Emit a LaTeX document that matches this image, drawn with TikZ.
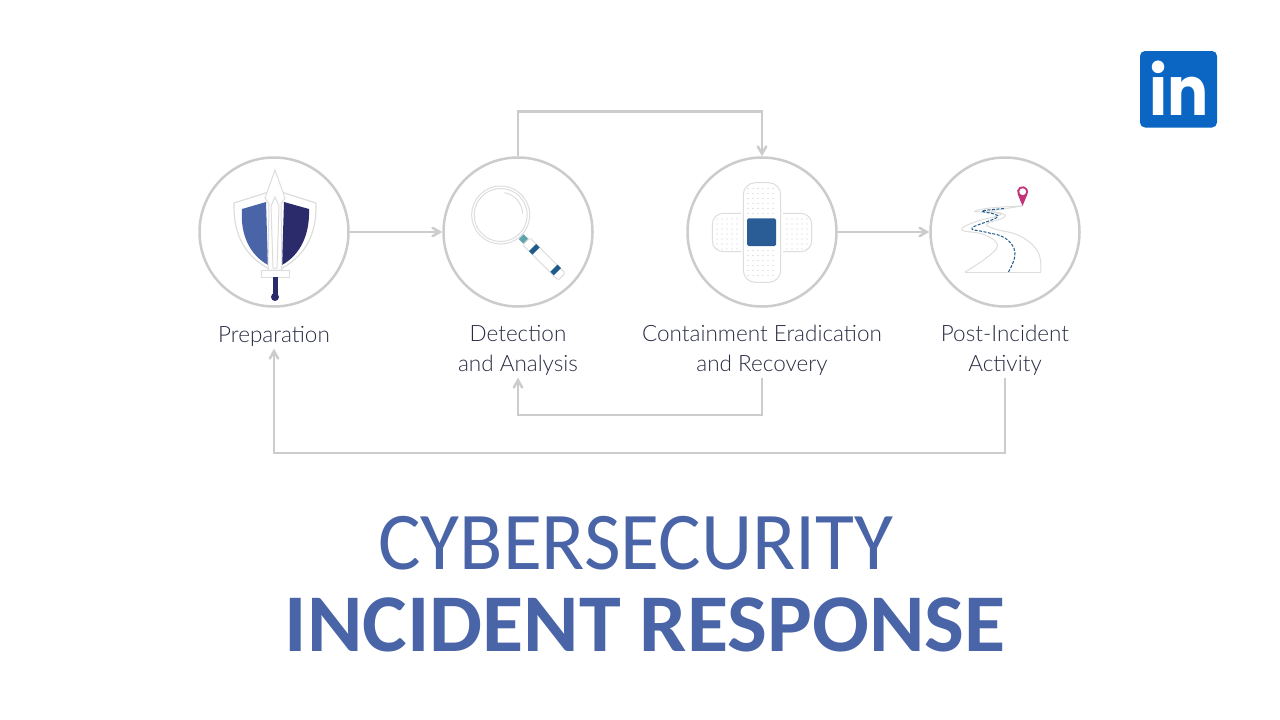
\documentclass[tikz,border=0pt]{standalone}
\usepackage{fontspec}
\usepackage{tikz}
\usetikzlibrary{arrows}
\newfontfamily\labelfont{Lato Light}
\newfontfamily\titlefont{Carlito}
\newfontfamily\logofont{Poppins}
\definecolor{linegray}{HTML}{CCCCCC}
\definecolor{textnavy}{HTML}{2A2C45}
\definecolor{titleblue}{HTML}{4A64A8}
\definecolor{shieldblue}{HTML}{4A64A8}
\definecolor{shielddark}{HTML}{2B2A6B}
\definecolor{bandblue}{HTML}{1F5A8C}
\definecolor{neckteal}{HTML}{5FA3AD}
\definecolor{padblue}{HTML}{2A5C96}
\definecolor{pinpink}{HTML}{C2347A}
\definecolor{logoblue}{HTML}{0A66C2}
\definecolor{thingray}{HTML}{DDDDDD}
\begin{document}
\begin{tikzpicture}[x=1pt,y=-1pt]
		\tikzset{vertex/.style={shape = circle, draw = linegray, line width = 2.5pt, minimum size = 149pt, inner sep = 0pt}}
		\tikzset{edge/.style={->, > = angle 60, draw = linegray, line width = 2.5pt}}
		\tikzset{caption/.style={text = textnavy, font = \labelfont\fontsize{22.5}{30}\selectfont, align = center, inner sep = 2pt}}
		\tikzset{thin line/.style={draw = thingray, line width = 1pt}}
		\useasboundingbox (0, 0) rectangle (1280, 720);
		\fill[white] (0, 0) rectangle (1280, 720);
		%vertices
		\node[vertex] (prep) at (274, 232) {};
		\node[vertex] (detect) at (518, 232) {};
		\node[vertex] (contain) at (762, 232) {};
		\node[vertex] (post) at (1005, 232) {};
		%captions
		\node[caption] (preplabel) at (274, 336.5) {Preparation};
		\node[caption] (detectlabel) at (518, 350.5) {Detection\\and Analysis};
		\node[caption] (containlabel) at (762, 350.5) {Containment Eradication\\and Recovery};
		\node[caption] (postlabel) at (1005, 350.5) {Post-Incident\\Activity};
		%edges
		\draw[edge] (prep) -- (detect);
		\draw[edge] (contain) -- (post);
		\draw[edge] (detect.north) -- ++(0, -45) -| (contain.north);
		\draw[edge] (containlabel.south) -- ++(0, 37) -| (detectlabel.south);
		\draw[edge] (postlabel.south) -- ++(0, 75) -| (preplabel.south);
		%shield
		\draw[draw = thingray, line width = 1.2pt, fill = white] (234, 203) -- (275, 190) -- (316, 203) .. controls (317, 235) and (305, 258) .. (275, 272) .. controls (245, 258) and (233, 235) .. (234, 203) -- cycle;
		\fill[shieldblue] (242, 209) -- (266, 202) -- (268, 265) .. controls (250, 255) and (240, 235) .. (242, 209) -- cycle;
		\fill[shielddark] (284, 202) -- (309, 209) .. controls (310, 235) and (300, 255) .. (282, 265) -- cycle;
		%sword
		\draw[thin line, fill = white] (275, 170) -- (285, 198) -- (281, 204) -- (282, 270) -- (268, 270) -- (269, 204) -- (265, 198) -- cycle;
		\draw[thin line] (275, 197) -- (279, 206) -- (277, 268) -- (273, 268) -- (271, 206) -- cycle;
		\draw[thin line, fill = white] (261, 270) rectangle (289, 277);
		\fill[shielddark] (272.5, 277) rectangle (277.5, 295);
		\fill[shielddark] (275, 297) circle (4);
		%magnifier
		\draw[draw = thingray, line width = 1pt] (500.7, 215) circle (29);
		\draw[draw = thingray, line width = 1pt] (500.7, 215) circle (26.5);
		\draw[draw = thingray, line width = 1pt] (504.5, 192.7) arc (-80 : -2 : 22);
		\fill[neckteal, rotate around = {-45 : (524, 239.5)}] (520, 236) rectangle (528, 243);
		\draw[thin line, fill = white, rounded corners = 1.5pt, rotate around = {-45 : (544, 259)}] (519, 254) rectangle (569, 264);
		\fill[bandblue, rotate around = {-45 : (534.3, 249.3)}] (531.8, 244.3) rectangle (536.8, 254.3);
		\fill[bandblue, rotate around = {-45 : (555.7, 270)}] (553.2, 265) rectangle (558.2, 275);
		%bandage
		\draw[thin line, rounded corners = 11pt] (741, 213.3) -- (712.3, 213.3) -- (712.3, 251.7) -- (741, 251.7);
		\draw[thin line, rounded corners = 11pt] (783, 213.3) -- (811.7, 213.3) -- (811.7, 251.7) -- (783, 251.7);
		\draw[thin line, fill = white, rounded corners = 12pt] (743.3, 182.7) rectangle (780.7, 282.3);
		\foreach \dotx in {748, 753, 758, 763, 768, 773} {
			\foreach \doty in {188.5, 193.5, 198.5, 203.5, 208.5, 213.5, 250.5, 255.5, 260.5, 265.5, 270.5, 275.5}
				\fill[linegray] (\dotx, \doty) circle (0.7);
		}
		\foreach \doty in {219, 224, 229, 234, 239, 244, 249} {
			\foreach \dotx in {717, 722, 727, 732, 737, 787, 792, 797, 802, 807}
				\fill[linegray] (\dotx, \doty) circle (0.7);
		}
		\fill[padblue, rounded corners = 1.5pt] (747, 218.3) rectangle (776, 246);
		%road
		\draw[thin line] (965, 272) -- (1040.7, 272);
		\draw[thin line] plot[smooth, tension = 0.7] coordinates {(965, 272) (996.5, 248.5) (985, 235) (962, 230) (975, 222) (1000, 215) (995, 212) (975, 211.5) (990, 208) (1022, 206)};
		\draw[thin line] plot[smooth, tension = 0.7] coordinates {(1040.7, 272) (1038, 252) (1020, 236) (995, 229) (987, 224) (1003, 218) (1003, 214) (987, 212) (1000, 209.5) (1022, 206)};
		\draw[draw = bandblue, line width = 1pt, dash pattern = on 3pt off 1.5pt] plot[smooth, tension = 0.7] coordinates {(1008.5, 272) (1015, 253) (1005, 238) (985, 232) (972, 228) (996, 218) (994, 214) (982, 211) (1005, 208.5)};
		%pin
		\fill[pinpink] (1022.5, 206) -- (1017.9, 194.6) arc (148 : 392 : 5.5) -- cycle;
		\fill[white] (1022.7, 191.7) circle (3.4);
		%logo
		\fill[logoblue, rounded corners = 5pt] (1140, 51) rectangle (1217, 127.5);
		\node[text = white, font = \logofont\bfseries\fontsize{68}{68}\selectfont, xscale = 0.9, inner sep = 0pt] (logotext) at (1179.5, 88) {in};
		%title
		\node[text = titleblue, font = \titlefont\fontsize{82}{82}\selectfont, xscale = 0.972, inner sep = 0pt] (titletop) at (636, 543) {CYBERSECURITY};
		\node[text = titleblue, font = \titlefont\bfseries\fontsize{82}{82}\selectfont, xscale = 1.027, inner sep = 0pt] (titlebottom) at (645, 625) {INCIDENT RESPONSE};
\end{tikzpicture}
\end{document}
